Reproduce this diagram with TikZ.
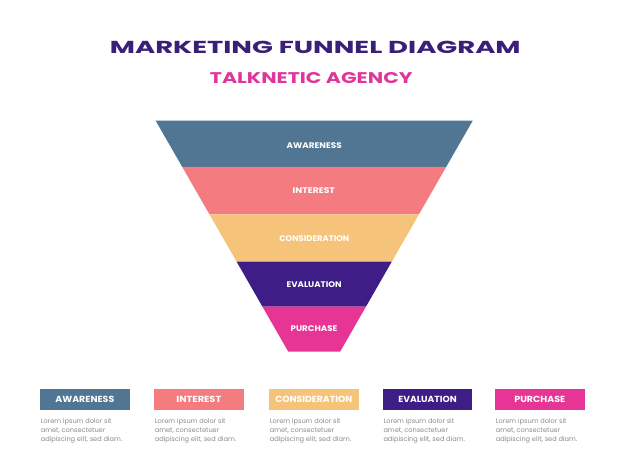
\documentclass[tikz,border=0pt]{standalone}
\usepackage{fontspec}
\usepackage{graphicx}
\setmainfont{DejaVu Sans}
\newfontfamily\loremfont{Poppins}
\newfontfamily\heavyfont{Poppins}
\usetikzlibrary{calc}
\definecolor{cBlue}{HTML}{507693}
\definecolor{cRed}{HTML}{F47B80}
\definecolor{cYel}{HTML}{F5C47A}
\definecolor{cPur}{HTML}{3E1E86}
\definecolor{cPink}{HTML}{E73596}
\definecolor{cTitle}{HTML}{3A1F78}
\definecolor{cSub}{HTML}{E0369B}
\definecolor{cGray}{HTML}{8C8C8C}
\newcommand{\fitlbl}[3]{\resizebox{#1pt}{#2pt}{\heavyfont\bfseries #3}}
\tikzset{
  flbl/.style={inner sep=0pt, text=white},
  legbox/.style={minimum width=89.3pt, minimum height=20.3pt, inner sep=0pt, text=white, anchor=north west},
  loremtxt/.style={inner sep=0pt, anchor=base west, text=cGray, font=\loremfont\fontsize{6.6}{9.3}\selectfont},
}
\begin{document}
\begin{tikzpicture}[x=1pt,y=-1pt]
\useasboundingbox[fill=white] (0,0) rectangle (626,469);
% titles
\node[inner sep=0pt, text=cTitle] (title) at (315.3,47.8) {\fitlbl{410.7}{12.3}{MARKETING FUNNEL DIAGRAM}};
\node[inner sep=0pt, text=cSub] (subtitle) at (311.3,78.3) {\fitlbl{202.7}{11}{TALKNETIC AGENCY}};
% funnel
\coordinate (TL) at (155.7,120.7);
\coordinate (TR) at (472.7,120.7);
\coordinate (BL) at (288.3,351.7);
\coordinate (BR) at (340.1,351.7);
\foreach \a/\b/\c in {0/0.2/cBlue, 0.2/0.405/cRed, 0.405/0.61/cYel, 0.61/0.805/cPur, 0.805/1/cPink}{
  \fill[\c] ($(TL)!\a!(BL)$) -- ($(TR)!\a!(BR)$) -- ($(TR)!\b!(BR)$) -- ($(TL)!\b!(BL)$) -- cycle;
}
\node[flbl] (fAw) at (314.2,145.7) {\fitlbl{55}{5.8}{AWARENESS}};
\node[flbl] (fIn) at (313.8,191) {\fitlbl{42.3}{5.8}{INTEREST}};
\node[flbl] (fCo) at (314.3,238.3) {\fitlbl{70}{5.8}{CONSIDERATION}};
\node[flbl] (fEv) at (314.2,285) {\fitlbl{55}{5.8}{EVALUATION}};
\node[flbl] (fPu) at (314,329) {\fitlbl{46.6}{5.8}{PURCHASE}};
% legend
\foreach \i/\x/\c/\w/\t in {1/40/cBlue/59/AWARENESS, 2/154/cRed/45/INTEREST, 3/269/cYel/77/CONSIDERATION, 4/382.7/cPur/58.4/EVALUATION, 5/495/cPink/51/PURCHASE}{
  \node[legbox, fill=\c] (box\i) at (\x,389) {\fitlbl{\w}{6.3}{\t}};
  \node[loremtxt] (la\i) at (\x+0.6,423.3) {Lorem ipsum dolor sit};
  \node[loremtxt] (lb\i) at (\x+0.6,432.6) {amet, consectetuer};
  \node[loremtxt] (lc\i) at (\x+0.6,441.9) {adipiscing elit, sed diam.};
}
\end{tikzpicture}
\end{document}
